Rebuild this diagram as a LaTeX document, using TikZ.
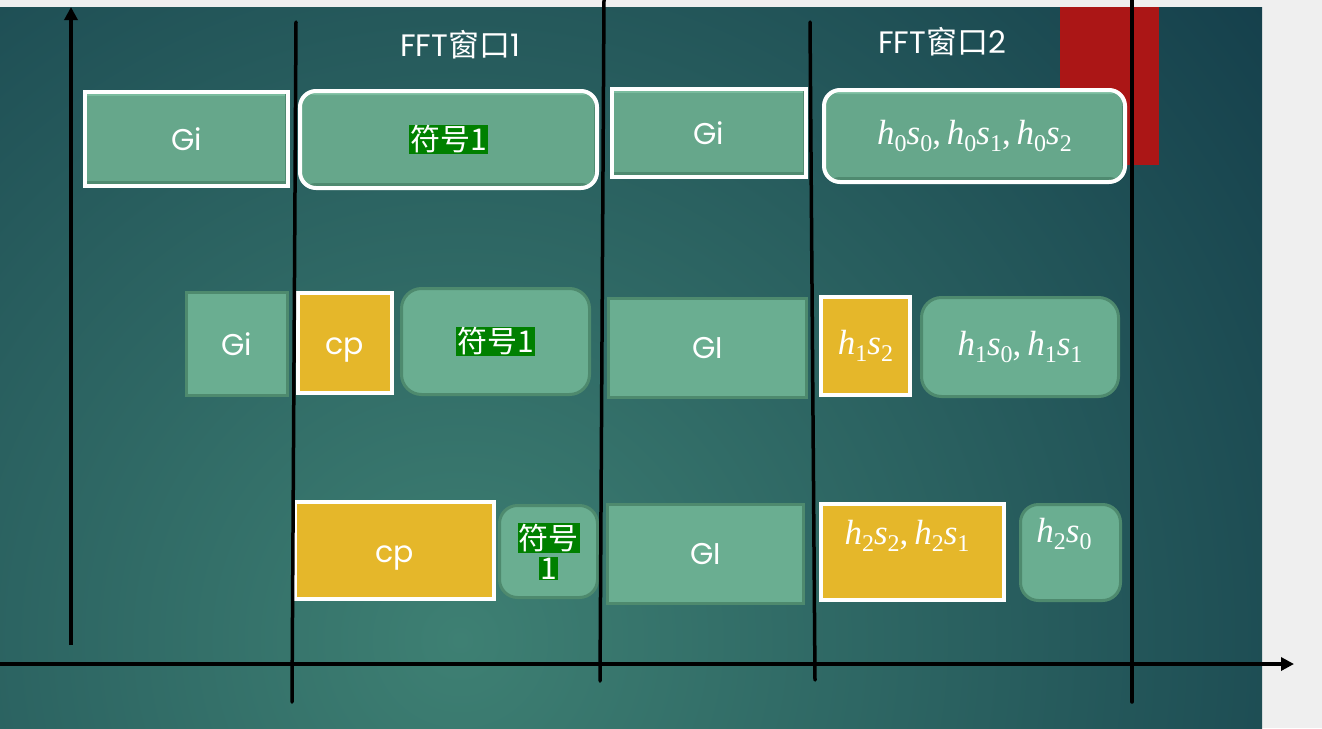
\documentclass[tikz,border=0pt]{standalone}
\usepackage{fontspec}
\newfontfamily\gothic{Poppins}
\newfontfamily\cjk{Noto Sans CJK SC}
\newfontfamily\mserif{Liberation Serif}
\usetikzlibrary{arrows.meta}
\definecolor{bgdark}{HTML}{103847}
\definecolor{bglight}{HTML}{3E8073}
\definecolor{pagegray}{HTML}{EFEFEF}
\definecolor{boxgreen}{HTML}{66A78B}
\definecolor{boxgreenb}{HTML}{6AAE91}
\definecolor{edgegreen}{HTML}{4E8A6E}
\definecolor{bevlight}{HTML}{7ABC9E}
\definecolor{bevdark}{HTML}{4F8A70}
\definecolor{gold}{HTML}{E5B72A}
\definecolor{redbar}{HTML}{AB1616}
\definecolor{hlgreen}{HTML}{008000}
\newcommand\hlt[1]{{\setlength{\fboxsep}{1pt}\colorbox{hlgreen}{#1}}}
\newcommand\sub[1]{\lower7pt\hbox{\fontsize{24}{26}\selectfont\mserif #1}}
\newcommand\hs[2]{{\itshape h}\sub{#1}{\itshape s}\sub{#2}}
\begin{document}
\begin{tikzpicture}[x=1pt,y=-1pt,
  bevel/.style={path picture={
      \fill[bevlight] (path picture bounding box.north west) rectangle ([yshift=-4pt]path picture bounding box.north east);
      \fill[bevdark] (path picture bounding box.south west) rectangle ([yshift=5pt]path picture bounding box.south east);
      \fill[bevdark] (path picture bounding box.north east) rectangle ([xshift=-3pt]path picture bounding box.south east);}},
  wbox/.style={draw=white, line width=4pt, fill=boxgreen, text=white, inner sep=0pt, bevel},
  wround/.style={wbox, rounded corners=16pt},
  gbox/.style={draw=edgegreen, line width=3pt, fill=boxgreenb, text=white, inner sep=0pt},
  ground/.style={gbox, rounded corners=20pt},
  ybox/.style={draw=white, line width=4pt, fill=gold, text=white, inner sep=0pt},
  lat/.style={font=\fontsize{30}{36}\selectfont\gothic},
  cptext/.style={lat, text height=23pt, text depth=0pt},
  han/.style={font=\fontsize{30}{34}\selectfont\cjk},
  mth/.style={font=\fontsize{35}{40}\selectfont\mserif, text=white},
  ttl/.style={font=\fontsize{31}{36}\selectfont\gothic, text=white},
  divider/.style={line width=3.5pt, black, line cap=round},
  axis/.style={line width=3.5pt, black, -{Triangle[length=13pt,width=13pt]}}]
\useasboundingbox (0,0) rectangle (1322,728);
\fill[pagegray] (0,0) rectangle (1322,728);
\begin{scope}
  \clip (0,7) rectangle (1262,728);
  \shade[inner color=bglight, outer color=bgdark] (460,640) circle (1150);
\end{scope}
% red bar
\fill[redbar] (1060,7) rectangle (1159,165);
% titles
\node[ttl] (t1) at (460,45) {FFT{\cjk 窗口}1};
\node[ttl] (t2) at (942,42) {FFT{\cjk 窗口}2};
% row 1
\node[wbox, lat, minimum width=203pt, minimum height=94pt] (g1) at (186.5,139) {Gi};
\node[wround, han, minimum width=297pt, minimum height=97pt] (s1) at (448.5,139.5) {\hlt{符号1}};
\node[wbox, lat, minimum width=194pt, minimum height=88pt] (g2) at (709,133) {Gi};
\node[wround, mth, minimum width=301pt, minimum height=92pt] (h0) at (974.5,136) {\hs{0}{0},\,\hs{0}{1},\,\hs{0}{2}};
% row 2
\node[gbox, lat, minimum width=101pt, minimum height=103pt] (g3) at (237,344) {Gi};
\node[ybox, cptext, minimum width=94pt, minimum height=100pt] (cp1) at (345,343) {cp};
\node[ground, han, minimum width=188pt, minimum height=106pt] (s2) at (495.5,341.5) {\hlt{符号1}};
\node[gbox, lat, minimum width=198pt, minimum height=99pt] (gi1) at (707.5,348) {GI};
\node[ybox, mth, minimum width=89pt, minimum height=98pt] (h1a) at (865.5,346) {\hs{1}{2}};
\node[ground, mth, minimum width=197pt, minimum height=99pt] (h1b) at (1020,347) {\hs{1}{0},\,\hs{1}{1}};
% row 3
\node[ybox, cptext, minimum width=199pt, minimum height=97pt] (cp2) at (394.5,550.5) {cp};
\node[ground, han, rounded corners=18pt, minimum width=98pt, minimum height=92pt, align=center] (s3) at (548.5,551.5) {\hlt{符号}\\[-4pt]\hlt{1}};
\node[gbox, lat, minimum width=196pt, minimum height=99pt] (gi2) at (705.5,554) {GI};
\node[ybox, minimum width=183pt, minimum height=96pt] (h2a) at (912.5,552) {};
\node[mth] (h2at) at (907,536) {\hs{2}{2},\,\hs{2}{1}};
\node[ground, rounded corners=18pt, minimum width=100pt, minimum height=96pt] (h2b) at (1070.5,552.5) {};
\node[mth] (h2bt) at (1064,534) {\hs{2}{0}};
% dividers
\coordinate (d1a) at (296,22);  \coordinate (d1b) at (292,702);
\coordinate (d2a) at (604,0);   \coordinate (d2b) at (600,681);
\coordinate (d3a) at (810,22);  \coordinate (d3b) at (815,680);
\coordinate (d4a) at (1132,0);  \coordinate (d4b) at (1132,702);
\draw[divider] (d1a) -- (d1b);
\draw[divider] (d2a) -- (d2b);
\draw[divider] (d3a) -- (d3b);
\draw[divider] (d4a) -- (d4b);
% axes
\coordinate (yb) at (71,645); \coordinate (yt) at (71,7);
\coordinate (xl) at (0,664);  \coordinate (xr) at (1294,664);
\draw[axis] (yb) -- (yt);
\draw[axis] (xl) -- (xr);
\end{tikzpicture}
\end{document}
